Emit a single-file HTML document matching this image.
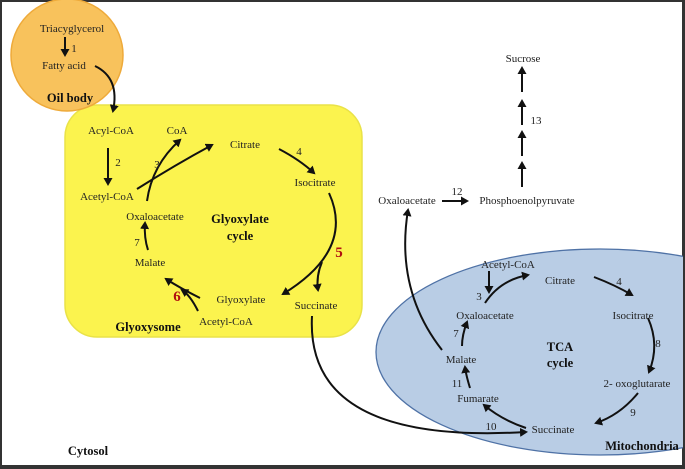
<!DOCTYPE html>
<html><head><style>
html,body{margin:0;padding:0;background:#fff;}
svg{display:block;}
text{font-family:"Liberation Serif",serif;font-size:11px;fill:#222;text-anchor:middle;}
.b{font-weight:bold;font-size:12.5px;fill:#111;}
.r{font-weight:bold;font-size:15px;fill:#b01010;}
</style></head><body>
<svg width="685" height="469" viewBox="0 0 685 469">
<defs>
<marker id="a" markerWidth="9" markerHeight="9" refX="6" refY="4.5" orient="auto" markerUnits="userSpaceOnUse">
<path d="M0,0 L8,4.5 L0,9 z" fill="#111"/></marker>
</defs>
<rect x="1" y="1" width="682" height="465" fill="#fff" stroke="#333" stroke-width="2"/>
<rect x="0" y="466" width="685" height="3" fill="#333"/>
<ellipse cx="600" cy="352" rx="224" ry="103" fill="#b9cde5" stroke="#4f72a6" stroke-width="1.3"/>
<rect x="683" y="0" width="2" height="469" fill="#333"/>
<rect x="65" y="105" width="297" height="232" rx="32" fill="#fbf34e" stroke="#e9e248" stroke-width="1.5"/>
<circle cx="67" cy="55" r="56" fill="#f8c25c" stroke="#eeaa3a" stroke-width="1.5"/>

<g stroke="#111" stroke-width="2" fill="none" marker-end="url(#a)">
<path d="M65,37 L65,55"/>
<path d="M95,66 Q120,78 113,111"/>
<path d="M108,148 L108,184"/>
<path d="M137,189 Q175,165 212,145"/>
<path d="M147,201 Q152,165 180,140"/>
<path d="M279,149 Q300,160 314,173"/>
<path d="M329,193 Q355,250 283,294"/>
<path d="M322,262 Q316,276 318,290"/>
<path d="M200,298 Q180,288 166,279"/>
<path d="M198,311 Q190,295 182,290"/>
<path d="M148,250 Q144,238 145,223"/>
<path d="M312,316 Q305,445 526,432"/>
<path d="M442,201 L467,201"/>
<path d="M522,187 L522,163"/>
<path d="M522,156 L522,132"/>
<path d="M522,125 L522,101"/>
<path d="M522,92 L522,68"/>
<path d="M442,350 Q395,290 408,210"/>
<path d="M485,303 Q500,280 528,275"/>
<path d="M489,271 L489,292"/>
<path d="M594,277 Q615,285 632,295"/>
<path d="M648,318 Q660,345 649,372"/>
<path d="M638,393 Q620,415 596,423"/>
<path d="M526,428 Q502,420 484,405"/>
<path d="M470,388 Q466,375 465,367"/>
<path d="M462,346 Q462,335 467,322"/>
</g>

<text x="72" y="32">Triacyglycerol</text>
<text x="74" y="52">1</text>
<text x="64" y="69">Fatty acid</text>
<text x="70" y="102" class="b">Oil body</text>

<text x="111" y="134">Acyl-CoA</text>
<text x="177" y="134">CoA</text>
<text x="245" y="148">Citrate</text>
<text x="299" y="155">4</text>
<text x="315" y="186">Isocitrate</text>
<text x="118" y="166">2</text>
<text x="157" y="168">3</text>
<text x="107" y="200">Acetyl-CoA</text>
<text x="155" y="220">Oxaloacetate</text>
<text x="240" y="223" class="b">Glyoxylate</text>
<text x="240" y="240" class="b">cycle</text>
<text x="137" y="246">7</text>
<text x="150" y="266">Malate</text>
<text x="339" y="257" class="r">5</text>
<text x="177" y="301" class="r">6</text>
<text x="241" y="303">Glyoxylate</text>
<text x="316" y="309">Succinate</text>
<text x="226" y="325">Acetyl-CoA</text>
<text x="148" y="331" class="b">Glyoxysome</text>

<text x="523" y="62">Sucrose</text>
<text x="536" y="124">13</text>
<text x="407" y="204">Oxaloacetate</text>
<text x="457" y="195">12</text>
<text x="527" y="204">Phosphoenolpyruvate</text>

<text x="508" y="268">Acetyl-CoA</text>
<text x="560" y="284">Citrate</text>
<text x="619" y="285">4</text>
<text x="479" y="300">3</text>
<text x="485" y="319">Oxaloacetate</text>
<text x="633" y="319">Isocitrate</text>
<text x="456" y="337">7</text>
<text x="560" y="351" class="b">TCA</text>
<text x="560" y="367" class="b">cycle</text>
<text x="658" y="347">8</text>
<text x="461" y="363">Malate</text>
<text x="457" y="387">11</text>
<text x="637" y="387">2- oxoglutarate</text>
<text x="478" y="402">Fumarate</text>
<text x="633" y="416">9</text>
<text x="491" y="430">10</text>
<text x="553" y="433">Succinate</text>
<text x="642" y="450" class="b">Mitochondria</text>
<text x="88" y="455" class="b">Cytosol</text>
</svg>
</body></html>
